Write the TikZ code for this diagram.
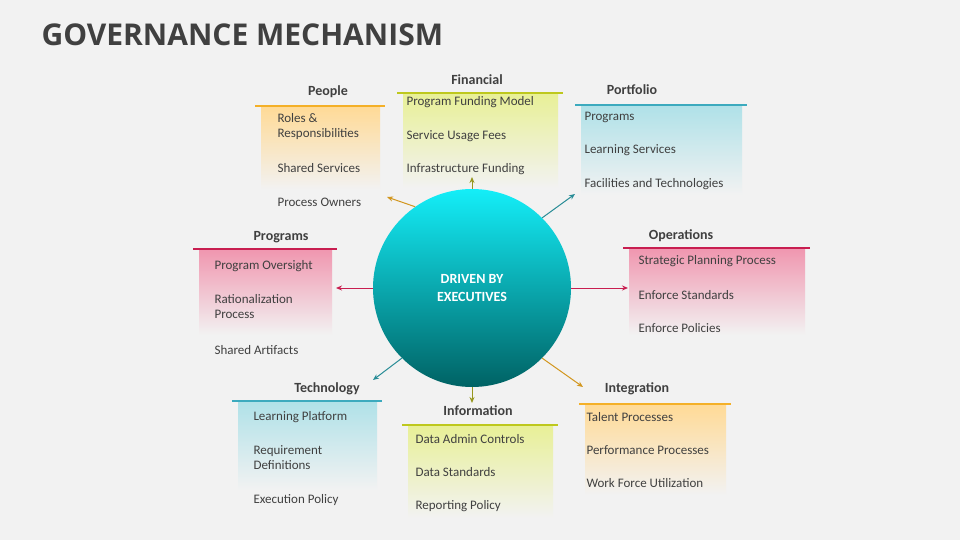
\documentclass[tikz,border=0pt]{standalone}
\usepackage{fontspec}
\setmainfont{Carlito}
\newfontfamily\titlefont{Open Sans}
\usetikzlibrary{arrows.meta}
\definecolor{bg}{RGB}{242,242,242}
\definecolor{txt}{RGB}{64,64,64}
\definecolor{cOr}{RGB}{244,176,40}
\definecolor{fOr}{RGB}{255,218,150}
\definecolor{cYe}{RGB}{190,200,30}
\definecolor{fYe}{RGB}{232,240,150}
\definecolor{cCy}{RGB}{60,170,190}
\definecolor{fCy}{RGB}{175,225,232}
\definecolor{cPk}{RGB}{200,30,80}
\definecolor{fPk}{RGB}{240,150,175}
\definecolor{aOl}{RGB}{150,150,30}
\definecolor{aOr}{RGB}{210,150,30}
\definecolor{aTe}{RGB}{40,140,150}
\tikzset{
  ttl/.style={font=\fontsize{14}{16}\selectfont\bfseries, text=txt},
  itm/.style={font=\fontsize{13}{15}\selectfont, text=txt, anchor=west, align=left},
  arr/.style={-{Stealth[length=6pt,width=5pt]}, line width=1pt},
}
\begin{document}
\begin{tikzpicture}[x=1pt,y=-1pt]
\fill[bg] (0,0) rectangle (960,540);
\useasboundingbox (0,0) rectangle (960,540);
\node[anchor=west, font=\titlefont\fontsize{30}{34}\selectfont\bfseries, text=txt] (title) at (38,35) {GOVERNANCE MECHANISM};
% group macro
\newcommand\grp[9]{% name, lx1, lx2, ly, boxbottom, linecolor, fillcolor, title x, title y
  \shade[top color=#7, bottom color=bg] (#2+6,#4) rectangle (#3-5,#5);
  \draw[#6, line width=1.8pt] (#2,#4) -- (#3,#4);
  \node[ttl] (#1) at (#8,#9) {\csname gname#1\endcsname};
}
\expandafter\def\csname gnamepeople\endcsname{People}
\expandafter\def\csname gnamefin\endcsname{Financial}
\expandafter\def\csname gnameport\endcsname{Portfolio}
\expandafter\def\csname gnameprog\endcsname{Programs}
\expandafter\def\csname gnameops\endcsname{Operations}
\expandafter\def\csname gnametech\endcsname{Technology}
\expandafter\def\csname gnameinfo\endcsname{Information}
\expandafter\def\csname gnameint\endcsname{Integration}
\grp{people}{255}{385}{106}{190}{cOr}{fOr}{328}{92}
\grp{fin}{397}{563}{93}{188}{cYe}{fYe}{477}{80}
\grp{port}{575}{747}{105}{195}{cCy}{fCy}{632}{90}
\grp{prog}{193}{337}{249}{335}{cPk}{fPk}{281}{237}
\grp{ops}{623}{810}{248}{335}{cPk}{fPk}{681}{236}
\grp{tech}{232}{382}{401}{490}{cCy}{fCy}{327}{389}
\grp{info}{402}{558}{425}{518}{cYe}{fYe}{478}{411}
\grp{int}{579}{731}{404}{495}{cOr}{fOr}{637}{389}
% items
\node[itm] (p1) at (274,127) {Roles \&\\Responsibilities};
\node[itm] (p2) at (274,168) {Shared Services};
\node[itm] (p3) at (274,202) {Process Owners};
\node[itm] (f1) at (403,102) {Program Funding Model};
\node[itm] (f2) at (403,136) {Service Usage Fees};
\node[itm] (f3) at (403,169) {Infrastructure Funding};
\node[itm] (o1) at (581,117) {Programs};
\node[itm] (o2) at (581,150) {Learning Services};
\node[itm] (o3) at (581,184) {Facilities and Technologies};
\node[itm] (g1) at (211,266) {Program Oversight};
\node[itm] (g2) at (211,307) {Rationalization\\Process};
\node[itm] (g3) at (211,350) {Shared Artifacts};
\node[itm] (s1) at (635,261) {Strategic Planning Process};
\node[itm] (s2) at (635,295) {Enforce Standards};
\node[itm] (s3) at (635,328) {Enforce Policies};
\node[itm] (t1) at (250,417) {Learning Platform};
\node[itm] (t2) at (250,458) {Requirement\\Definitions};
\node[itm] (t3) at (250,500) {Execution Policy};
\node[itm] (i1) at (412,439) {Data Admin Controls};
\node[itm] (i2) at (412,472) {Data Standards};
\node[itm] (i3) at (412,506) {Reporting Policy};
\node[itm] (n1) at (583,417) {Talent Processes};
\node[itm] (n2) at (583,450) {Performance Processes};
\node[itm] (n3) at (583,483) {Work Force Utilization};
% circle
\shade[top color={rgb,255:red,20;green,238;blue,248}, bottom color={rgb,255:red,0;green,98;blue,100}] (472,288) circle (99);
\node[circle, minimum size=198pt, inner sep=0pt] (c) at (472,288) {};
\node[font=\fontsize{14}{18}\selectfont\bfseries, text=white, align=center] (ctext) at (472,288) {DRIVEN BY\\EXECUTIVES};
% arrows
\coordinate (aU) at (472,177);
\coordinate (aL) at (336,288);
\coordinate (aR) at (628,288);
\coordinate (aUL) at (387,197);
\coordinate (aUR) at (575,194);
\coordinate (aDL) at (373,380);
\coordinate (aD) at (472,403);
\coordinate (aDR) at (583,387);
\draw[arr, aOl] (c.90) -- (aU);
\draw[arr, cPk] (c.180) -- (aL);
\draw[arr, cPk] (c.0) -- (aR);
\draw[arr, aOr] (c.125) -- (aUL);
\draw[arr, aTe] (c.45) -- (aUR);
\draw[arr, aTe] (c.225) -- (aDL);
\draw[arr, aOl] (c.270) -- (aD);
\draw[arr, aOr] (c.315) -- (aDR);
\end{tikzpicture}
\end{document}
